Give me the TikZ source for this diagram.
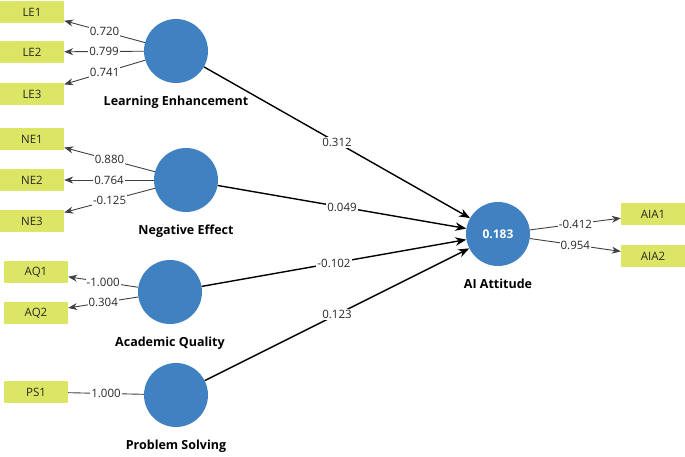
\documentclass[tikz,border=0pt]{standalone}
\usepackage{fontspec}
\setmainfont{Open Sans}
\usetikzlibrary{arrows.meta,positioning}

\definecolor{latentblue}{RGB}{64,129,193}
\definecolor{itemyellow}{RGB}{221,229,100}
\definecolor{valgray}{RGB}{40,40,40}

\begin{document}
\begin{tikzpicture}[x=1pt, y=-1pt, >=Stealth,
  latent/.style={circle, fill=latentblue, minimum size=64pt, inner sep=0pt,
    text=white, font=\fontsize{12}{14}\selectfont\bfseries},
  item/.style={fill=itemyellow, minimum width=64pt, minimum height=22pt, inner sep=0pt,
    text=valgray, font=\fontsize{11.5}{13}\selectfont},
  lname/.style={inner sep=0pt, text=black, font=\fontsize{12.5}{14}\selectfont\bfseries},
  val/.style={fill=white, inner sep=1pt, text=valgray, font=\fontsize{11.5}{13}\selectfont},
  loading/.style={draw=black!75, line width=0.9pt, -{Stealth[length=9pt,width=7pt]}},
  path/.style={draw=black, line width=1.4pt, -{Stealth[length=11pt,width=8.5pt]}}]

\useasboundingbox (0,0) rectangle (685,457);

% latent variables
\node[latent] (LE) at (176,51) {};
\node[latent] (NE) at (186,180) {};
\node[latent] (AQ) at (170,292) {};
\node[latent] (PS) at (176,395) {};
\node[latent] (AI) at (498,234) {0.183};

\node[lname, below=13pt of LE] {Learning Enhancement};
\node[lname, below=13pt of NE] {Negative Effect};
\node[lname, below=13pt of AQ] {Academic Quality};
\node[lname, below=13pt of PS] {Problem Solving};
\node[lname, below=13pt of AI] {AI Attitude};

% indicators
\node[item] (LE1) at (32,12) {LE1};
\node[item] (LE2) at (32,52) {LE2};
\node[item] (LE3) at (32,94) {LE3};
\node[item] (NE1) at (32,139) {NE1};
\node[item] (NE2) at (32,180) {NE2};
\node[item] (NE3) at (32,221) {NE3};
\node[item] (AQ1) at (36,272) {AQ1};
\node[item] (AQ2) at (36,313) {AQ2};
\node[item] (PS1) at (36,392) {PS1};
\node[item] (AIA1) at (653,214) {AIA1};
\node[item] (AIA2) at (653,256) {AIA2};

% outer loadings
\draw[loading] (LE) -- node[val] {0.720} (LE1);
\draw[loading] (LE) -- node[val] {0.799} (LE2);
\draw[loading] (LE) -- node[val] {0.741} (LE3);
\draw[loading] (NE) -- node[val] {0.880} (NE1);
\draw[loading] (NE) -- node[val] {0.764} (NE2);
\draw[loading] (NE) -- node[val] {-0.125} (NE3);
\draw[loading] (AQ) -- node[val] {-1.000} (AQ1);
\draw[loading] (AQ) -- node[val] {0.304} (AQ2);
\draw[loading, -] (PS1) -- node[val] {1.000} (PS);
\draw[loading] (AI) -- node[val] {-0.412} (AIA1);
\draw[loading] (AI) -- node[val] {0.954} (AIA2);

% inner model
\draw[path] (LE) -- node[val] {0.312} (AI);
\draw[path] (NE) -- node[val] {0.049} (AI);
\draw[path] (AQ) -- node[val] {-0.102} (AI);
\draw[path] (PS) -- node[val] {0.123} (AI);

\end{tikzpicture}
\end{document}
